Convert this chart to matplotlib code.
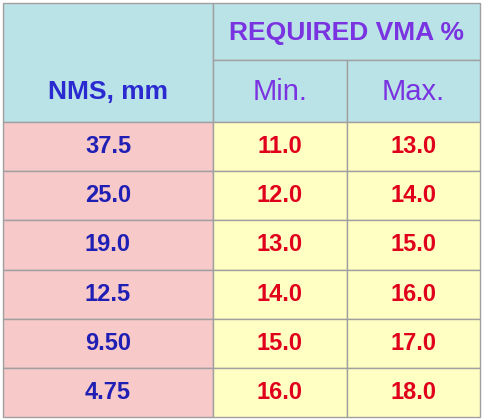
import matplotlib.pyplot as plt
from matplotlib.patches import Rectangle

nms = ['37.5', '25.0', '19.0', '12.5', '9.50', '4.75']
vma_min = ['11.0', '12.0', '13.0', '14.0', '15.0', '16.0']
vma_max = ['13.0', '14.0', '15.0', '16.0', '17.0', '18.0']

W, H = 484, 420
fig = plt.figure(figsize=(W / 100, H / 100), dpi=100)
ax = fig.add_axes([0, 0, 1, 1])
ax.set_xlim(0, W)
ax.set_ylim(H, 0)
ax.axis('off')

fam = ['Liberation Sans Narrow', 'Liberation Sans', 'DejaVu Sans']
cyan = '#b9e3e6'
pink = '#f8c9c9'
yellow = '#ffffc4'
grid = '#a0a0a0'

xs = [3, 213, 347, 480]
top, hdr_mid, hdr_bot, bot = 3, 60, 122, 417
rh = (bot - hdr_bot) / len(nms)

def cell(x0, y0, x1, y1, fc):
    ax.add_patch(Rectangle((x0, y0), x1 - x0, y1 - y0, facecolor=fc,
                           edgecolor=grid, lw=1))

# header
cell(xs[0], top, xs[1], hdr_bot, cyan)
cell(xs[1], top, xs[3], hdr_mid, cyan)
cell(xs[1], hdr_mid, xs[2], hdr_bot, cyan)
cell(xs[2], hdr_mid, xs[3], hdr_bot, cyan)
ax.text((xs[0] + xs[1]) / 2, 92, 'NMS, mm', ha='center', va='center',
        color='#2a2ad0', fontsize=19, fontweight='bold', family=fam)
ax.text((xs[1] + xs[3]) / 2, 33, 'REQUIRED VMA %', ha='center', va='center',
        color='#7a33e0', fontsize=19, fontweight='bold', family=fam)
ax.text((xs[1] + xs[2]) / 2, 92, 'Min.', ha='center', va='center',
        color='#7a33e0', fontsize=21, family=fam)
ax.text((xs[2] + xs[3]) / 2, 92, 'Max.', ha='center', va='center',
        color='#7a33e0', fontsize=21, family=fam)

for i, (n, lo, hi) in enumerate(zip(nms, vma_min, vma_max)):
    y0 = hdr_bot + i * rh
    cy = y0 + rh / 2
    cell(xs[0], y0, xs[1], y0 + rh, pink)
    cell(xs[1], y0, xs[2], y0 + rh, yellow)
    cell(xs[2], y0, xs[3], y0 + rh, yellow)
    ax.text((xs[0] + xs[1]) / 2, cy, n, ha='center', va='center',
            color='#1f1fb5', fontsize=17, fontweight='bold', family=fam)
    ax.text((xs[1] + xs[2]) / 2, cy, lo, ha='center', va='center',
            color='#e0001c', fontsize=17, fontweight='bold', family=fam)
    ax.text((xs[2] + xs[3]) / 2, cy, hi, ha='center', va='center',
            color='#e0001c', fontsize=17, fontweight='bold', family=fam)

fig.savefig('out.png', dpi=100)
